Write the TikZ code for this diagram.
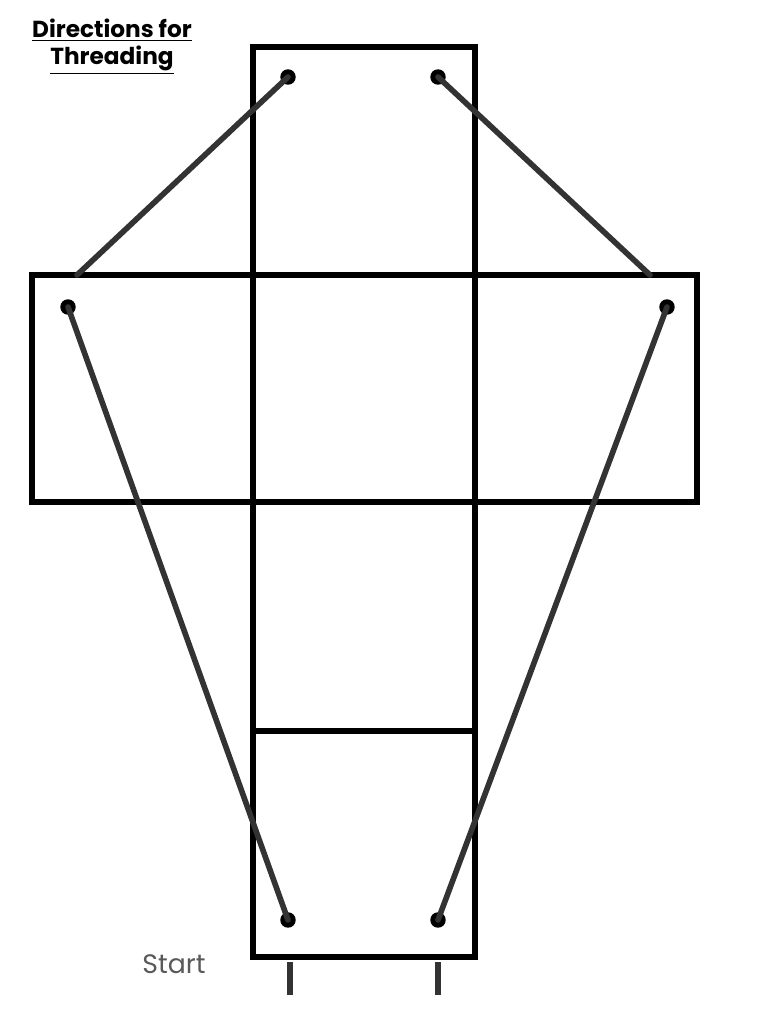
\documentclass[tikz,border=0pt]{standalone}
\usepackage{fontspec}
\setmainfont{Poppins}
\begin{document}
\begin{tikzpicture}[x=0.025cm,y=-0.025cm,
  frame/.style={line width=3.8pt,black},
  thread/.style={line width=4.0pt,black!80,line cap=round},
  dot/.style={circle,fill=black,inner sep=0pt,minimum size=11pt},
  title/.style={font=\fontsize{16.5}{18}\selectfont\bfseries,inner sep=1pt},
  startlbl/.style={font=\fontsize{19}{21}\selectfont,text=black!65,inner sep=0pt}]
\useasboundingbox (0,0) rectangle (768,1024);
% vertical bar
\draw[frame] (253,47) rectangle (475,957);
% horizontal bar
\draw[frame] (32,275) rectangle (697,502);
% divider
\draw[frame] (253,731) -- (475,731);
% dots
\node[dot] (tl) at (288,77) {};
\node[dot] (tr) at (438,77) {};
\node[dot] (ml) at (68,307) {};
\node[dot] (mr) at (667,307) {};
\node[dot] (bl) at (288,920) {};
\node[dot] (br) at (438,920) {};
\coordinate (el) at (77,275);
\coordinate (er) at (650,275);
\coordinate (sl0) at (290,962);
\coordinate (sl1) at (290,995);
\coordinate (sr0) at (438,962);
\coordinate (sr1) at (438,995);
% threads
\draw[thread] (tl.center) -- (el);
\draw[thread] (tr.center) -- (er);
\draw[thread] (ml.center) -- (bl.center);
\draw[thread] (mr.center) -- (br.center);
\draw[thread,line cap=butt] (sl0) -- (sl1);
\draw[thread,line cap=butt] (sr0) -- (sr1);
% texts
\node[title] (t1) at (112,30) {\underline{Directions for}};
\node[title] (t2) at (112,60) {\underline{Threading}};
\node[startlbl] (st) at (174,964) {Start};
\end{tikzpicture}
\end{document}
